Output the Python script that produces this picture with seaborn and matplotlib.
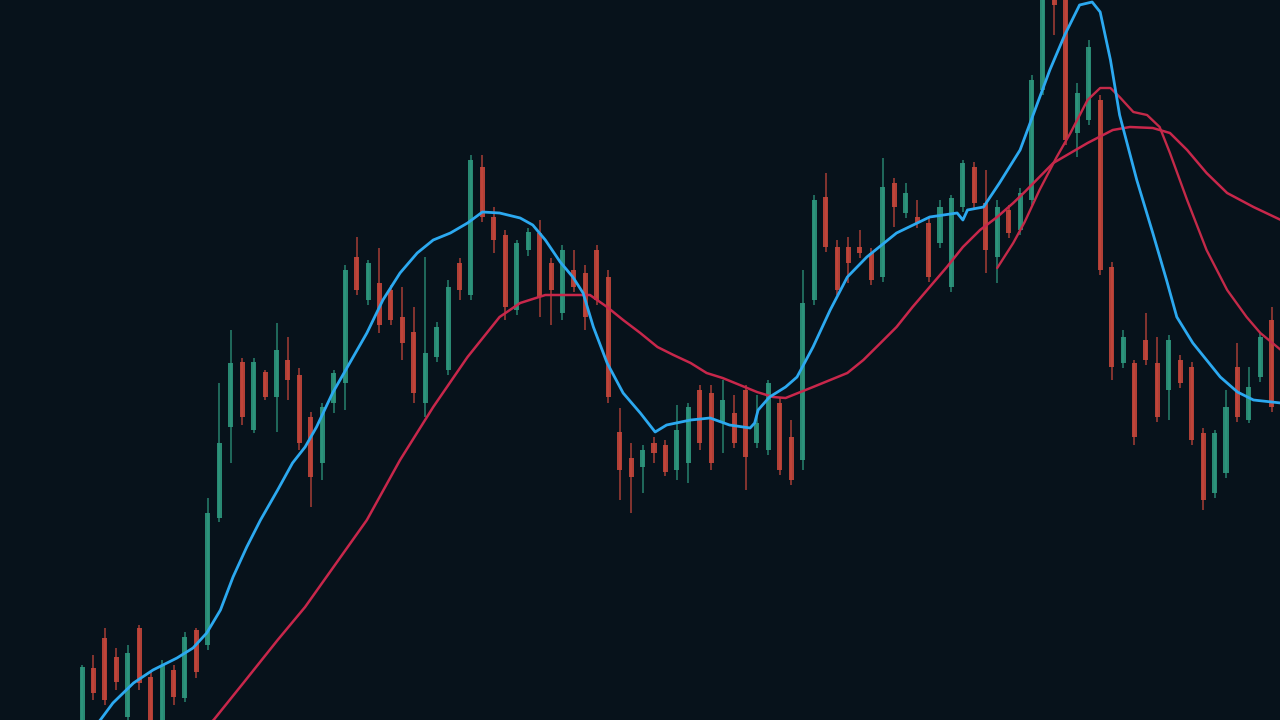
"""Dark candlestick chart with three moving-average lines."""

import matplotlib.pyplot as plt
import pandas as pd
import seaborn as sns

# candles, in time order (price units)
OPEN = [-15, 52, 82, 63, 3, 92, 43, -15, 50, 22, 90, 75, 202, 293, 358, 290, 348, 323, 360, 345,
        303, 257, 317, 337, 463, 420, 437, 430, 403, 388, 317, 363, 350, 457, 425, 553, 503, 485, 410, 470,
        487, 457, 407, 450, 447, 470, 443, 288, 262, 253, 277, 275, 250, 257, 330, 327, 297, 307, 330, 277,
        270, 317, 283, 260, 420, 523, 473, 473, 473, 467, 443, 537, 507, 503, 497, 477, 433, 513, 553, 517,
        463, 510, 490, 520, 630, 750, 730, 587, 600, 620, 453, 357, 357, 380, 357, 330, 360, 353, 287, 227,
        247, 353, 300, 343, 400]
CLOSE = [53, 27, 20, 38, 67, 37, -20, 55, 23, 83, 48, 207, 277, 357, 303, 358, 323, 370, 340, 277,
         243, 313, 347, 450, 430, 457, 395, 400, 377, 327, 367, 393, 433, 430, 560, 503, 480, 413, 477, 488,
         423, 430, 470, 433, 403, 420, 323, 250, 243, 270, 267, 248, 290, 313, 277, 257, 320, 277, 263, 297,
         337, 250, 240, 417, 520, 473, 430, 457, 467, 440, 533, 513, 527, 497, 443, 513, 522, 557, 517, 470,
         513, 487, 527, 640, 740, 715, 580, 627, 673, 450, 353, 383, 283, 360, 303, 380, 337, 280, 220, 287,
         313, 303, 333, 383, 313]
HIGH = [55, 65, 92, 72, 75, 95, 48, 60, 55, 88, 92, 222, 337, 390, 362, 362, 350, 397, 383, 352,
        308, 317, 350, 455, 483, 460, 472, 435, 433, 413, 463, 398, 440, 462, 565, 565, 513, 490, 480, 492,
        500, 462, 475, 470, 455, 475, 450, 312, 277, 275, 283, 280, 315, 317, 335, 335, 340, 325, 335, 325,
        340, 322, 300, 450, 525, 547, 480, 483, 490, 472, 562, 542, 537, 520, 503, 520, 525, 560, 558, 550,
        520, 515, 532, 645, 750, 760, 740, 637, 680, 625, 458, 390, 360, 407, 383, 385, 365, 358, 292, 290,
        330, 377, 353, 388, 413]
LOW = [-20, 20, 15, 30, -10, 30, -25, -25, 15, 18, 42, 70, 198, 257, 295, 287, 320, 288, 320, 270,
       213, 240, 307, 310, 425, 415, 387, 395, 360, 317, 303, 358, 345, 420, 420, 498, 467, 400, 405, 464,
       403, 395, 400, 428, 390, 415, 317, 220, 207, 227, 257, 244, 240, 237, 270, 250, 267, 272, 230, 272,
       265, 245, 235, 250, 415, 468, 425, 437, 462, 435, 438, 493, 502, 492, 438, 472, 428, 508, 512, 447,
       437, 482, 485, 515, 625, 685, 575, 563, 595, 445, 340, 352, 275, 355, 298, 300, 332, 275, 210, 222,
       242, 298, 297, 338, 308]

# fast moving average (blue)
FAST_T = [0.5, 1.6, 2.7, 4.5, 6.2, 8.3, 9.7, 10.9, 12.1, 13.2, 14.4, 15.6, 17.1, 18.4, 19.5, 20.5,
          21.9, 23.4, 24.9, 26.3, 27.8, 29.3, 30.7, 32.2, 33.7, 35.0, 36.5, 38.3, 39.4, 40.5, 41.8, 42.9,
          43.8, 44.7, 45.9, 47.3, 48.8, 50.1, 51.1, 53.2, 54.9, 56.6, 58.4, 58.8, 59.1, 60.1, 61.5, 62.5,
          63.9, 65.4, 66.9, 68.6, 71.2, 74.1, 76.5, 77.0, 77.4, 78.8, 80.2, 82.0, 83.3, 84.6, 85.9, 87.2,
          88.3, 89.0, 89.9, 90.7, 92.2, 93.6, 94.8, 95.7, 97.1, 99.5, 101.0, 102.4, 104.8]
FAST_MA = [-15, 0, 17, 37, 50, 62, 72, 87, 110, 143, 173, 200, 230, 257, 273, 293,
           327, 357, 387, 420, 447, 467, 480, 487, 497, 508, 507, 502, 495, 480, 458, 443,
           427, 393, 357, 327, 307, 288, 295, 300, 302, 295, 292, 297, 310, 323, 333, 343,
           373, 410, 443, 463, 487, 503, 507, 500, 510, 513, 537, 570, 610, 650, 685, 715,
           718, 708, 660, 605, 540, 487, 440, 403, 377, 343, 328, 320, 317]

# slow moving average (crimson)
SLOW_T = [9.5, 11.5, 14.1, 17.1, 19.5, 24.9, 27.8, 30.7, 33.7, 36.5, 38.3, 40.5, 44.4, 45.9, 47.3, 48.8,
          50.3, 51.7, 53.2, 54.6, 56.0, 57.5, 59.0, 60.4, 61.5, 63.9, 66.9, 68.3, 69.8, 71.2, 72.6, 74.1,
          75.6, 77.0, 78.5, 80.0, 81.4, 82.4, 84.9, 87.9, 90.1, 91.6, 93.6, 95.1, 96.6, 98.3, 100.1, 102.4,
          104.8]
SLOW_MA = [-20, 0, 37, 80, 113, 200, 260, 313, 363, 403, 417, 425, 425, 413, 400, 387,
           373, 365, 357, 347, 342, 335, 328, 323, 322, 333, 347, 360, 377, 393, 413, 433,
           453, 473, 490, 503, 517, 528, 557, 577, 590, 593, 592, 587, 570, 547, 527, 513,
           500]

# medium moving average (red, starts late)
MID_T = [80.0, 81.4, 82.4, 83.7, 85.2, 86.4, 87.9, 89.0, 89.9, 90.7, 91.9, 93.1, 94.2, 95.1, 96.6,
         98.3, 100.1, 101.8, 103.0, 104.8]
MID_MA = [452, 477, 498, 530, 563, 587, 620, 632, 632, 623, 608, 605, 593, 567, 520,
          470, 430, 403, 387, 370]

BG = "#07121b"
UP = "#2e9a80"
DOWN = "#c9473b"

sns.set_theme(style="dark")
plt.rcParams["font.family"] = ["DejaVu Sans"]

candles = pd.DataFrame({"open": OPEN, "high": HIGH, "low": LOW, "close": CLOSE})
candles["t"] = range(len(candles))
candles["up"] = candles["close"] >= candles["open"]
candles["color"] = candles["up"].map({True: UP, False: DOWN})

fig = plt.figure(figsize=(12.8, 7.2), dpi=100)
fig.patch.set_facecolor(BG)
ax = fig.add_axes([0, 0, 1, 1])
ax.set_facecolor(BG)

# wicks then bodies
ax.vlines(candles["t"], candles["low"], candles["high"], colors=candles["color"],
          linewidth=1.2, alpha=0.75, zorder=2)
body_lo = candles[["open", "close"]].min(axis=1)
body_hi = candles[["open", "close"]].max(axis=1)
ax.bar(candles["t"], body_hi - body_lo, bottom=body_lo, width=0.44,
       color=candles["color"], alpha=0.88, linewidth=0, zorder=3)

line_kw = dict(ax=ax, sort=False, solid_joinstyle="round", solid_capstyle="round")
fast = pd.DataFrame({"t": FAST_T, "ma": FAST_MA})
slow = pd.DataFrame({"t": SLOW_T, "ma": SLOW_MA})
mid = pd.DataFrame({"t": MID_T, "ma": MID_MA})
sns.lineplot(data=slow, x="t", y="ma", color="#c8274b", linewidth=1.8, zorder=4, **line_kw)
sns.lineplot(data=mid, x="t", y="ma", color="#c42a49", linewidth=1.7, zorder=4, **line_kw)
sns.lineplot(data=fast, x="t", y="ma", color="#2ca9f0", linewidth=2.0, zorder=5, **line_kw)

ax.set_xlim(-7.17, 104.72)
ax.set_ylim(0, 720)
ax.set_axis_off()

fig.savefig("out.png", dpi=100, facecolor=BG)
plt.close(fig)
